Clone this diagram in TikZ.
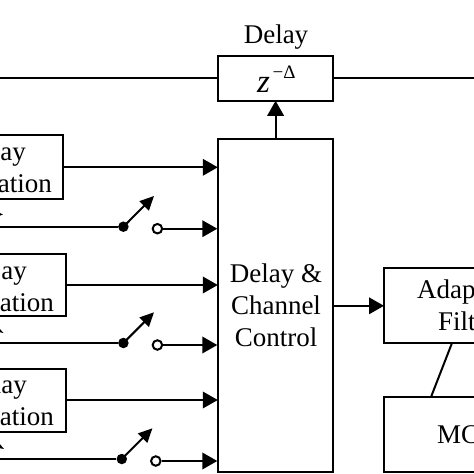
\documentclass[tikz,border=0pt]{standalone}
\usepackage{fontspec}
\setmainfont{Liberation Serif}
\usetikzlibrary{arrows.meta}
\tikzset{
  ln/.style={line width=2pt,black},
  arr/.style={ln,-{Triangle[length=15pt,width=16.5pt]}},
  sw/.style={ln,-{Triangle[length=14pt,width=13pt]}},
  blk/.style={draw=black,line width=2pt,fill=white,inner sep=0pt,outer sep=0pt,anchor=north west},
  lbl/.style={font=\fontsize{27}{27}\selectfont,inner sep=0pt,text=black},
  dot/.style={circle,fill=black,inner sep=0pt,minimum size=10.5pt},
  hole/.style={circle,draw=black,line width=2pt,fill=white,inner sep=0pt,minimum size=9.5pt},
}
\begin{document}
\begin{tikzpicture}[x=1pt,y=-1pt]
\useasboundingbox (0,0) rectangle (474,474);
\clip (0,0) rectangle (474,474);
% central blocks
\node[blk,minimum width=115.6pt,minimum height=45pt] (delay) at (217.8,55.8) {};
\node[lbl,anchor=base west] (delayz) at (257,92.5) {\fontsize{33}{33}\selectfont\itshape z\hspace{2.5pt}\raisebox{14.5pt}{\fontsize{19}{19}\selectfont\upshape −Δ}};
\node[lbl,anchor=base] (delaycap) at (276,43) {Delay};
\node[blk,minimum width=115.6pt,minimum height=332.7pt] (ctrl) at (217.8,139) {};
\node[lbl,align=center,font=\fontsize{27}{32}\selectfont] (ctrltxt) at (276,305) {Delay \&\\Channel\\Control};
% top line
\coordinate (tl) at (-2,78.3);
\coordinate (tr) at (476,78.3);
\draw[ln] (tl) -- (delay.west);
\draw[ln] (delay.east) -- (tr);
\draw[arr] (ctrl.north) -- (delay.south);
% left blocks
\node[blk,minimum width=69.3pt,minimum height=63.7pt] (b1) at (-6,135.3) {};
\node[blk,minimum width=71.7pt,minimum height=62pt] (b2) at (-6,254) {};
\node[blk,minimum width=71.7pt,minimum height=62.4pt] (b3) at (-6,369.3) {};
\node[lbl,anchor=base east] (b1a) at (26,160) {ay};
\node[lbl,anchor=base east] (b1b) at (52,192) {ation};
\node[lbl,anchor=base east] (b2a) at (27,279) {ay};
\node[lbl,anchor=base east] (b2b) at (54,311) {ation};
\node[lbl,anchor=base east] (b3a) at (27,393) {lay};
\node[lbl,anchor=base east] (b3b) at (54,425) {ation};
\coordinate (t1) at (217.8,167.3); \coordinate (t2) at (217.8,285); \coordinate (t3) at (217.8,400);
\draw[arr] (b1.east |- t1) -- (t1);
\draw[arr] (b2.east |- t2) -- (t2);
\draw[arr] (b3.east |- t3) -- (t3);
% switches
\foreach \n/\y/\dx in {a/226.7/0,b/343/0,c/459/-1.6}{
  \coordinate (l\n) at (-2,\y);
  \node[dot] (d\n) at (123.4+\dx,\y) {};
  \coordinate (u\n) at (154+\dx,\y-30.7);
  \node[hole] (h\n) at (157.4+\dx,\y+2) {};
  \coordinate (e\n) at (217.3,\y+2);
  \draw[ln] (l\n) -- (d\n);
  \draw[sw] (d\n.center) -- (u\n);
  \draw[arr] (h\n) -- (e\n);
}
% cut-off arrowheads at the left edge
\fill[black] (-1,212.5) -- (3,214.5) -- (-1,216) -- cycle;
\fill[black] (-1,328) -- (3.5,333) -- (-1,332) -- cycle;
\fill[black] (-1,443) -- (4,449) -- (-1,448) -- cycle;
% right blocks
\node[blk,minimum width=110pt,minimum height=75pt] (adapt) at (384,268.3) {};
\node[blk,minimum width=110pt,minimum height=75pt] (mc) at (384,397) {};
\node[lbl,anchor=base west] (ad1) at (417,298) {Adap};
\node[lbl,anchor=base west] (ad2) at (438,330) {Filt};
\node[lbl,anchor=base west] (mc1) at (437,443) {MC};
\draw[arr] (ctrl.east |- adapt.west) -- (adapt.west);
\coordinate (m1) at (452,343); \coordinate (m2) at (431,397);
\draw[ln] (m1) -- (m2);
\end{tikzpicture}
\end{document}
